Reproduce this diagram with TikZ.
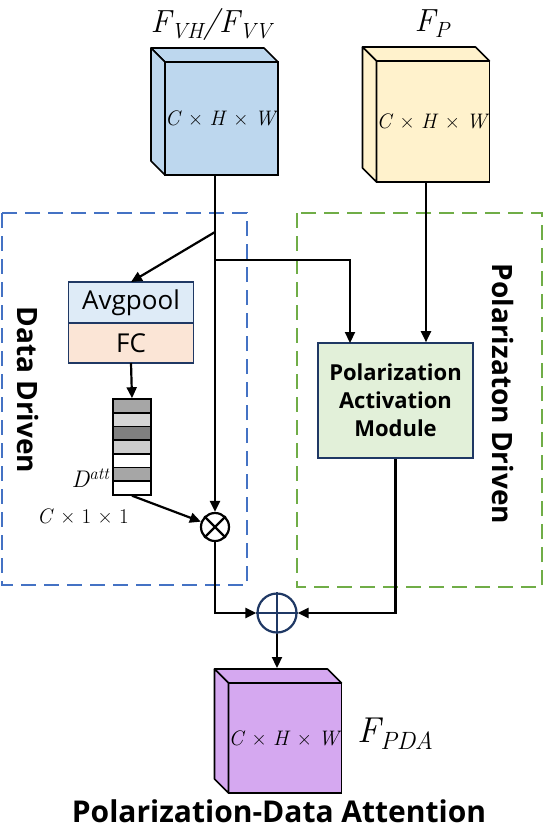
\documentclass[tikz,border=0pt]{standalone}
\usepackage{fontspec}
\newfontfamily\labelfont{Open Sans}
\usetikzlibrary{arrows.meta,positioning}
\definecolor{vhblue}{HTML}{BDD7EE}
\definecolor{pyellow}{HTML}{FFF2CC}
\definecolor{pdapurple}{HTML}{D5A8F0}
\definecolor{poolblue}{HTML}{DEEBF7}
\definecolor{fcpeach}{HTML}{FBE5D6}
\definecolor{pamgreen}{HTML}{E2F0D9}
\definecolor{navy}{HTML}{1F3864}
\definecolor{dashblue}{HTML}{4472C4}
\definecolor{dashgreen}{HTML}{70AD47}
\newcommand{\chw}{\textit{C} × \textit{H} × \textit{W}}
\begin{document}
\begin{tikzpicture}
[x=1pt,y=-1pt,line width=2.2pt,>={Triangle[length=11pt,width=10pt]},
 face/.style={draw,line width=1.6pt,inner sep=0,outer sep=0,minimum width=112pt,
   font=\fontsize{21}{21}\selectfont},
 title/.style={font=\fontsize{32}{32}\selectfont\itshape},
 layer/.style={draw=navy,line width=1.6pt,inner sep=0,outer sep=0,minimum width=125pt,
   font=\labelfont\fontsize{26}{26}\selectfont},
 cell/.style={draw,line width=1.6pt,inner sep=0,minimum width=38pt,minimum height=13.7pt},
 region/.style={dashed,dash pattern=on 15pt off 8pt,line width=2.4pt},
 side/.style={font=\labelfont\bfseries\fontsize{28}{28}\selectfont,rotate=-90}]
\useasboundingbox (0,0) rectangle (545,831);
% feature cubes
\node[face,fill=vhblue,minimum height=113pt] (vh) at (221.5,118.5) {\chw};
\node[face,fill=pyellow,minimum height=121pt] (p) at (433,121.5) {\chw};
\node[face,fill=pdapurple,minimum height=110pt] (pda) at (285,738) {\chw};
\foreach \n/\c in {vh/vhblue,p/pyellow,pda/pdapurple} {
  \draw[line width=1.6pt,line join=round,fill=\c] (\n.north west) -- ++(-14,-14)
    -- ([shift={(-14,-14)}]\n.north east) -- (\n.north east) -- cycle;
  \draw[line width=1.6pt,line join=round,fill=\c] (\n.north west) -- ++(-14,-14)
    -- ([shift={(-14,-14)}]\n.south west) -- (\n.south west) -- cycle;
}
\node[title] (tvh) at (211,24)
  {F\raisebox{-6pt}{\fontsize{22}{22}\selectfont VH}/F\raisebox{-6pt}{\fontsize{22}{22}\selectfont VV}};
\node[title] (tp) at (432,24) {F\raisebox{-6pt}{\fontsize{22}{22}\selectfont P}};
\node[title,font=\fontsize{36}{36}\selectfont\itshape,anchor=west] (tpda) at (353,734)
  {F\raisebox{-7pt}{\fontsize{25}{25}\selectfont PDA}};
% dashed regions
\draw[region,draw=dashblue] (2,213) rectangle (247,585);
\draw[region,draw=dashgreen] (297,213) rectangle (542,587);
\node[side] (dd) at (28,390) {Data Driven};
\node[side] (pd) at (503,394) {Polarizaton Driven};
% data branch
\node[layer,fill=poolblue,minimum height=41pt] (avg) at (131,302.5) {Avgpool};
\node[layer,fill=fcpeach,minimum height=40pt,below=0pt of avg] (fc) {FC};
\foreach \g [count=\i] in {35,16,50,20,0,35,0}
  \node[cell,fill=black!\g] (cell\i) at (132,{392.15+13.7*\i}) {};
\node[anchor=east,inner sep=2pt,font=\fontsize{24}{24}\selectfont\itshape] (datt) at (112,478)
  {D\raisebox{8pt}{\fontsize{17}{17}\selectfont att}};
\node[font=\fontsize{21}{21}\selectfont] (dsize) at (83,516) {\textit{C} × 1 × 1};
\node[circle,draw,line width=2.2pt,minimum size=28pt,inner sep=0] (mul) at (215,527) {};
\draw (mul.north west) -- (mul.south east) (mul.north east) -- (mul.south west);
% polarization branch
\node[draw=navy,fill=pamgreen,line width=1.6pt,minimum width=155pt,minimum height=115pt,
  align=center,font=\labelfont\bfseries\fontsize{22}{28}\selectfont] (pam) at (395.5,400.5)
  {Polarization\\Activation\\Module};
% fusion
\node[circle,draw=navy,line width=2.2pt,minimum size=39pt,inner sep=0] (add) at (277,613) {};
\draw[navy] (add.north) -- (add.south) (add.west) -- (add.east);
\node[anchor=base,inner sep=0,font=\labelfont\bfseries\fontsize{30}{30}\selectfont] (name)
  at (279,822) {Polarization-Data Attention};
% connectors
\coordinate (b1) at (215,232);
\coordinate (b2) at (215,260);
\coordinate (pin) at (350,343);
\coordinate (ptop) at (277,668);
\draw[->] (mul |- vh.south) -- (mul.north);
\draw[->] (b1) -- (avg.north);
\draw[->] (b2) -| (pin);
\draw[->] (p.south -| 426,0) -- (pam.north -| 426,0);
\draw[->] (fc.south) -- (cell1.north);
\draw[->] (cell7.south) -- (mul);
\draw[->] (mul.south) |- (add.west);
\draw[->] (pam.south) |- (add.east);
\draw[->] (add.south) -- (ptop);
\end{tikzpicture}
\end{document}
